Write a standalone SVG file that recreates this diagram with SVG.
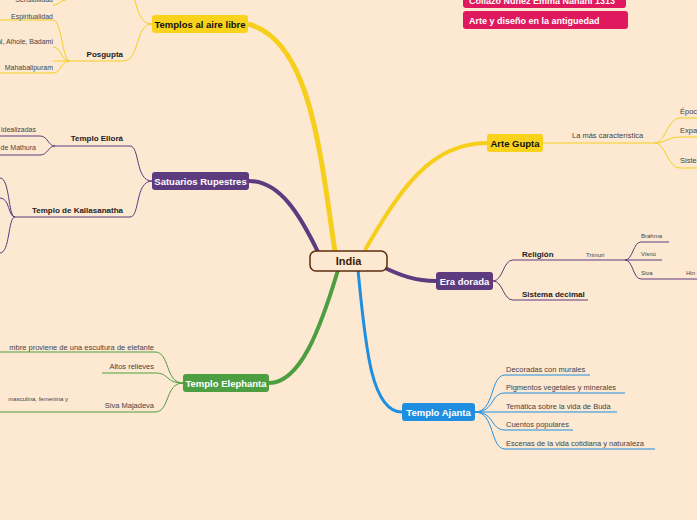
<svg xmlns="http://www.w3.org/2000/svg" width="697" height="520" viewBox="0 0 697 520">
<style>
text{font-family:"Liberation Sans",Arial,sans-serif}
.t{font-size:12px;font-weight:bold;fill:#fff}
.tk{font-size:12px;font-weight:bold;fill:#111}
.s{font-size:8px;fill:#444}
.sb{font-size:8px;font-weight:bold;fill:#222}
.m{font-size:7px;fill:#444}
.y{stroke:#f6cf1c;fill:none}
.p{stroke:#5e3a7e;fill:none}
.g{stroke:#4d9e40;fill:none}
.b{stroke:#1e8fe0;fill:none}
</style>
<rect width="697" height="520" fill="#fde8d2"/>
<g id="connectors">
<path class="y" stroke-width="5" d="M335 252 C320 150 310 40 248 24"/>
<path class="y" stroke-width="4" d="M365 250 C400 190 430 143 487 143"/>
<path class="p" stroke-width="4" d="M385 268 C400 275 415 281 436 281"/>
<path class="b" stroke-width="3" d="M358 270 C365 340 370 412 402 412"/>
<path class="g" stroke-width="4" d="M338 270 C320 330 300 383 269 383"/>
<path class="p" stroke-width="4" d="M318 252 C300 215 280 181 249 181"/>
<g stroke-width="1">
<path class="y" d="M152 24 C135 24 138 -5 130 -5"/>
<path class="y" d="M152 24 C135 24 140 61 123 61 L53 61"/>
<path class="y" d="M70 61 C62 61 62 20 53 20 L0 20 M70 61 C60 61 62 47 53 47 M70 61 C60 61 62 73 53 73 L0 73"/>
<path class="y" d="M66 0 C60 0 60 5 53 5"/>
<path class="p" d="M152 181 C135 181 140 146 130 146 L55 146"/>
<path class="p" d="M152 181 C135 181 140 217 130 217 L15 217"/>
<path class="p" d="M55 146 C48 146 48 136 40 136 L0 136 M55 146 C48 146 48 155 40 155 L0 155"/>
<path class="p" d="M15 217 C8 217 10 178 0 178 M15 217 C8 217 10 198 0 198 M15 217 C8 217 10 253 0 253"/>
<path class="g" d="M183 383 C165 383 170 352 155 352 L0 352"/>
<path class="g" d="M183 383 C165 383 170 373 155 373 L102 373"/>
<path class="g" d="M183 383 C165 383 170 412 155 412 L0 412"/>
<path class="y" d="M543 143 L655 143 C665 143 668 118 680 118 L697 118 M655 143 C665 143 668 137 680 137 L697 137 M655 143 C665 143 668 168 680 168 L697 168"/>
<path class="p" d="M493 281 C503 281 503 260 513 260 L625 260 M493 281 C503 281 503 300 513 300 L588 300"/>
<path class="p" d="M625 260 C633 260 633 242 641 242 L669 242 M625 260 L662 260 M625 260 C633 260 633 279 641 279 L697 279"/>
<path class="b" d="M475 412 C495 412 490 375 505 375 L590 375 M475 412 C495 412 490 393 505 393 L625 393 M475 412 L617 412 M475 412 C495 412 490 430 505 430 L573 430 M475 412 C495 412 490 449 505 449 L655 449"/>
</g>
</g>
<g id="india"><rect x="310" y="251" width="77" height="20" rx="6" fill="#fde8d2" stroke="#5a2e0c" stroke-width="1.5"/><text x="348.5" y="265" text-anchor="middle" class="tk" style="fill:#3a1c05;font-size:11px">India</text></g>
<g id="templos-aire"><rect x="152" y="15" width="96" height="18" rx="3" fill="#f9d21b"/><text x="200" y="28" text-anchor="middle" class="tk" style="font-size:9.5px">Templos al aire libre</text></g>
<g id="sub-aire">
<text x="53" y="2" text-anchor="end" class="m">Sensibilidad</text>
<text x="53" y="19" text-anchor="end" class="m">Espiritualidad</text>
<text x="123" y="57" text-anchor="end" class="sb">Posgupta</text>
<text x="53" y="44" text-anchor="end" class="m">al, Aihole, Badami</text>
<text x="53" y="70" text-anchor="end" class="m">Mahabalipuram</text>
</g>
<g id="satuarios"><rect x="152" y="172" width="97" height="18" rx="3" fill="#5e3a7e"/><text x="200.5" y="185" text-anchor="middle" class="t" style="font-size:9.5px">Satuarios Rupestres</text></g>
<g id="sub-sat">
<text x="123" y="141" text-anchor="end" class="sb">Templo Ellorá</text>
<text x="36" y="132" text-anchor="end" class="m">idealizadas</text>
<text x="36" y="150" text-anchor="end" class="m">de Mathura</text>
<text x="123" y="213" text-anchor="end" class="sb">Templo de Kallasanatha</text>
</g>
<g id="elephanta"><rect x="183" y="374" width="86" height="18" rx="3" fill="#4d9e40"/><text x="226" y="387" text-anchor="middle" class="t" style="font-size:9.5px">Templo Elephanta</text></g>
<g id="sub-ele">
<text x="154" y="350" text-anchor="end" class="m" style="font-size:7.5px">mbre proviene de una escultura de elefante</text>
<text x="154" y="369" text-anchor="end" class="m" style="font-size:7.5px">Altos relieves</text>
<text x="68" y="401" text-anchor="end" class="m" style="font-size:6px">masculina, femenina y</text>
<text x="154" y="408" text-anchor="end" class="m" style="font-size:7.5px">Siva Majadeva</text>
</g>
<g id="ajanta"><rect x="402" y="403" width="73" height="18" rx="3" fill="#1e8fe0"/><text x="438.5" y="416" text-anchor="middle" class="t" style="font-size:9.5px">Templo Ajanta</text></g>
<g id="sub-aja">
<text x="506" y="372" class="m" style="font-size:7.5px">Decoradas con murales</text>
<text x="506" y="390" class="m" style="font-size:7.5px">Pigmentos vegetales y minerales</text>
<text x="506" y="409" class="m" style="font-size:7.5px">Temática sobre la vida de Buda</text>
<text x="506" y="427" class="m" style="font-size:7.5px">Cuentos populares</text>
<text x="506" y="446" class="m" style="font-size:7.5px">Escenas de la vida cotidiana y naturaleza</text>
</g>
<g id="arte-gupta"><rect x="487" y="134" width="56" height="18" rx="3" fill="#f9d21b"/><text x="515" y="147" text-anchor="middle" class="tk" style="font-size:9.5px">Arte Gupta</text></g>
<g id="sub-gupta">
<text x="572" y="138" class="m" style="font-size:7.5px">La más característica</text>
<text x="680" y="114" class="m" style="font-size:7.5px">Époc</text>
<text x="680" y="133" class="m" style="font-size:7.5px">Expa</text>
<text x="680" y="163" class="m" style="font-size:7.5px">Siste</text>
</g>
<g id="era-dorada"><rect x="436" y="272" width="57" height="18" rx="3" fill="#5e3a7e"/><text x="464.5" y="285" text-anchor="middle" class="t" style="font-size:9.5px">Era dorada</text></g>
<g id="sub-era">
<text x="522" y="257" class="sb">Religión</text>
<text x="586" y="257" class="m" style="font-size:6px">Trimuri</text>
<text x="641" y="238" class="m" style="font-size:6px">Brahma</text>
<text x="641" y="256" class="m" style="font-size:6px">Visnú</text>
<text x="641" y="275" class="m" style="font-size:6px">Siva</text>
<text x="686" y="275" class="m" style="font-size:6px">Hin</text>
<text x="522" y="297" class="sb">Sistema decimal</text>
</g>
<g id="titles">
<rect x="463" y="-8" width="163" height="16" rx="3" fill="#e0195e"/><text x="469" y="4" class="t" style="font-size:9px">Collazo Núñez Emma Nahani 1313</text>
<rect x="463" y="11" width="165" height="18" rx="3" fill="#e0195e"/><text x="469" y="24" class="t" style="font-size:9px">Arte y diseño en la antiguedad</text>
</g>
</svg>
